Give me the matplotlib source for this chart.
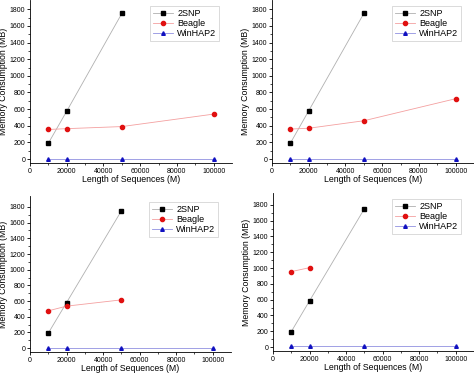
import numpy as np
import matplotlib.pyplot as plt

plt.rcParams['font.family'] = ['Liberation Sans', 'DejaVu Sans']

x_2snp = [10000, 20000, 50000]
x_all = [10000, 20000, 50000, 100000]

# panel data (top-left, top-right, bottom-left, bottom-right)
snp_tl = [190, 575, 1750]
beagle_tl = [355, 365, 390, 540]
winhap_tl = [5, 5, 5, 5]

snp_tr = [190, 580, 1750]
beagle_tr = [360, 370, 460, 725]
winhap_tr = [5, 5, 5, 5]

snp_bl = [190, 580, 1750]
beagle_bl = [475, 535, 615]
winhap_bl = [5, 5, 5, 5]

snp_br = [195, 585, 1750]
beagle_br = [955, 1005]
winhap_br = [10, 10, 10, 10]

panels = [
    (snp_tl, beagle_tl, winhap_tl),
    (snp_tr, beagle_tr, winhap_tr),
    (snp_bl, beagle_bl, winhap_bl),
    (snp_br, beagle_br, winhap_br),
]

# axes rectangles in pixels: left, right, top, bottom
W, H = 474, 375
boxes = [(30, 232, 0, 163), (272, 474, 0, 163),
         (30, 231, 196, 352), (273, 474, 193, 351)]
ylims = [(-48, 1912), (-48, 1912), (-50, 1940), (-50, 1950)]

fig = plt.figure(figsize=(W / 100, H / 100), dpi=100)

for (snp, beagle, winhap), (l, r, t, b), yl in zip(panels, boxes, ylims):
    ax = fig.add_axes([l / W, 1 - b / H, (r - l) / W, (b - t) / H])
    ax.plot(x_2snp, snp, color='#b0b0b0', lw=0.6, marker='s', ms=2.6,
            mfc='black', mec='black', label='2SNP')
    ax.plot(x_all[:len(beagle)], beagle, color='#f4a0a0', lw=0.6, marker='o', ms=3.0,
            mfc='#e01010', mec='#e01010', label='Beagle')
    ax.plot(x_all, winhap, color='#9090e0', lw=0.6, marker='^', ms=2.6,
            mfc='#1010c0', mec='#1010c0', label='WinHAP2')
    ax.set_xlim(0, 110000)
    ax.set_ylim(*yl)
    ax.set_xticks([0, 20000, 40000, 60000, 80000, 100000])
    ax.set_yticks(range(0, 1801, 200))
    ax.set_xticks(range(10000, 110000, 20000), minor=True)
    ax.set_yticks(range(100, 1900, 200), minor=True)
    ax.spines['top'].set_visible(False)
    ax.spines['right'].set_visible(False)
    for s in ['left', 'bottom']:
        ax.spines[s].set_linewidth(0.6)
    ax.tick_params(which='major', direction='out', length=2.2, width=0.6,
                   labelsize=5.0, pad=1.2)
    ax.tick_params(which='minor', direction='out', length=1.3, width=0.5)
    ax.set_xlabel('Length of Sequences (M)', fontsize=6.3, labelpad=0.5)
    ax.set_ylabel('Memory Consumption (MB)', fontsize=6.3, labelpad=1)
    leg = ax.legend(loc='upper right', fontsize=6.5, frameon=True, fancybox=False,
                    handlelength=2.2, borderpad=0.35, labelspacing=0.1,
                    handletextpad=0.5, bbox_to_anchor=(0.96, 0.99))
    leg.get_frame().set_edgecolor('#c0c0c0')
    leg.get_frame().set_linewidth(0.5)

fig.savefig('out.png', dpi=100)
